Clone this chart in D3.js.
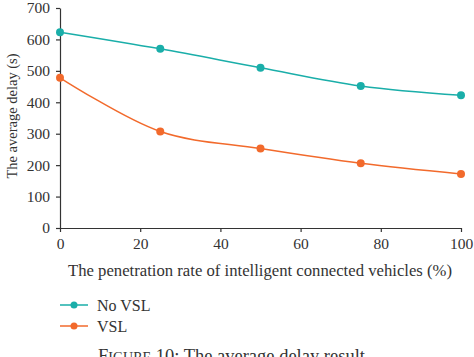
<!DOCTYPE html>
<html><head><meta charset="utf-8">
<script src="https://cdn.jsdelivr.net/npm/d3@7"></script>
<style>body{margin:0;background:#fff}svg{display:block}text{font-family:"Liberation Serif",serif}</style>
</head><body>
<script>
const xValues = [0, 25, 50, 75, 100];
const noVSL = [623, 570, 510, 452, 422];
const vsl = [478, 307, 253, 206, 172];
const xTicks = [0, 20, 40, 60, 80, 100];
const yTicks = [0, 100, 200, 300, 400, 500, 600, 700];
const seriesNames = ["No VSL", "VSL"];
const colors = ["#1aaea9", "#f26a2c"];

const W = 474, H = 357;
const svg = d3.select("body").append("svg").attr("width", W).attr("height", H);
const x = d3.scaleLinear().domain([0, 100]).range([60, 461]);
const y = d3.scaleLinear().domain([0, 700]).range([228, 8]);
const font = "'Liberation Serif', serif";

const xa = svg.append("g").attr("transform", "translate(0,228)")
  .call(d3.axisBottom(x).tickValues(xTicks).tickSize(4).tickSizeOuter(0).tickPadding(6));
const ya = svg.append("g").attr("transform", "translate(60,0)")
  .call(d3.axisLeft(y).tickValues(yTicks).tickSize(4).tickSizeOuter(0).tickPadding(6));
[xa, ya].forEach(a => {
  a.selectAll("path,line").attr("stroke", "#333").attr("stroke-width", 1.2);
  a.selectAll("text").attr("fill", "#333").style("font-family", font).style("font-size", "15.5px");
});

svg.append("text").attr("x", 260).attr("y", 276).attr("text-anchor", "middle")
  .style("font-family", font).style("font-size", "16.7px").attr("fill", "#333")
  .text("The penetration rate of intelligent connected vehicles (%)");
svg.append("text").attr("transform", "translate(17,116) rotate(-90)").attr("text-anchor", "middle")
  .style("font-family", font).style("font-size", "14.5px").attr("fill", "#333")
  .text("The average delay (s)");

const line = d3.line().x((d, i) => x(xValues[i])).y(d => y(d)).curve(d3.curveCatmullRom.alpha(0.5));
[noVSL, vsl].forEach((s, k) => {
  svg.append("path").attr("d", line(s)).attr("fill", "none").attr("stroke", colors[k]).attr("stroke-width", 1.5);
  svg.selectAll(null).data(s).enter().append("circle")
    .attr("cx", (d, i) => x(xValues[i])).attr("cy", d => y(d)).attr("r", 4).attr("fill", colors[k]);
});

seriesNames.forEach((n, k) => {
  const yy = 305 + k * 21;
  svg.append("line").attr("x1", 60).attr("x2", 88).attr("y1", yy).attr("y2", yy).attr("stroke", colors[k]).attr("stroke-width", 1.5);
  svg.append("circle").attr("cx", 74).attr("cy", yy).attr("r", 3.5).attr("fill", colors[k]);
  svg.append("text").attr("x", 97).attr("y", yy + 5.5).style("font-family", font).style("font-size", "16px").attr("fill", "#333").text(n);
});

svg.append("text").attr("x", 98).attr("y", 362).style("font-family", font).style("font-size", "18.5px").attr("fill", "#333")
  .html('F<tspan style="font-size:14px">IGURE</tspan> 10: The average delay result.');
</script>
</body></html>
